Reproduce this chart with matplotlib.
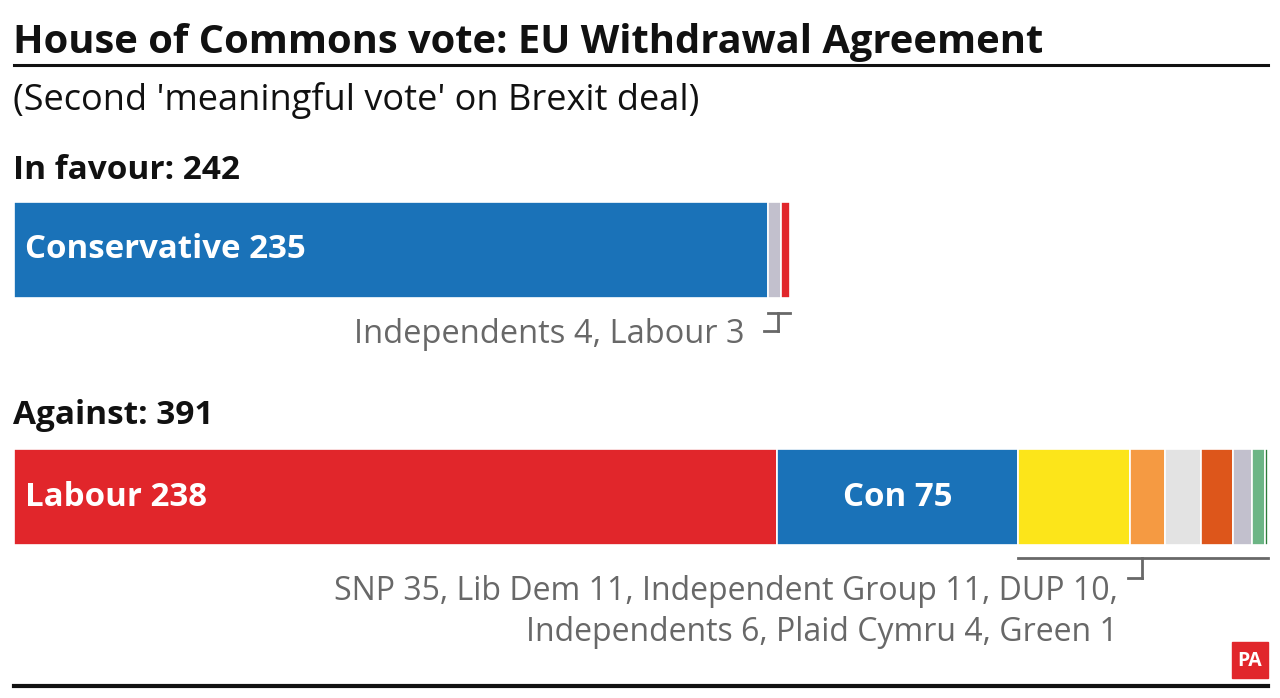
import matplotlib
matplotlib.use("Agg")
import matplotlib.pyplot as plt
from matplotlib.patches import Rectangle
import numpy as np

# ---- data ----
favour_parties = ["Conservative", "Independents", "Labour"]
favour_values = [235, 4, 3]
favour_colors = ["#1a72b8", "#c2c0cd", "#e1262b"]

against_parties = ["Labour", "Conservative", "SNP", "Lib Dem", "Independent Group",
                   "DUP", "Independents", "Plaid Cymru", "Green"]
against_values = [238, 75, 35, 11, 11, 10, 6, 4, 1]
against_colors = ["#e1262b", "#1a72b8", "#fce51a", "#f59a42", "#e3e3e3",
                  "#dd561b", "#c2c0cd", "#6cb585", "#2e7d3a"]

title = "House of Commons vote: EU Withdrawal Agreement"
subtitle = "(Second 'meaningful vote' on Brexit deal)"
favour_heading = "In favour: 242"
against_heading = "Against: 391"
favour_note = "Independents 4, Labour 3"
against_note_lines = ["SNP 35, Lib Dem 11, Independent Group 11, DUP 10,",
                      "Independents 6, Plaid Cymru 4, Green 1"]

W, H = 1280, 698
FONT = "Open Sans"
plt.rcParams["font.family"] = [FONT, "DejaVu Sans"]

fig = plt.figure(figsize=(W / 100, H / 100), dpi=100)
fig.patch.set_facecolor("white")

X0, X1 = 14, 1268
total = sum(against_values)
scale = (X1 - X0) / total
ax = fig.add_axes([0, 0, 1, 1])
ax.set_xlim(-X0 / scale, (W - X0) / scale)
ax.set_ylim(H, 0)
ax.axis("off")


def seat(px):
    # pixel x to seats
    return (px - X0) / scale


def fx(px):
    return px / W


def fy(py):
    return 1 - py / H


dark = "#111111"
gray = "#686868"

# title and rules
fig.text(fx(13), fy(53), title, fontsize=28.7, fontweight="bold", color=dark,
         ha="left", va="baseline")
fig.add_artist(plt.Line2D([fx(14), fx(1268)], [fy(65), fy(65)], color=dark, lw=2.2))
fig.text(fx(13), fy(110), subtitle, fontsize=26, color=dark, ha="left", va="baseline")
fig.text(fx(13), fy(179), favour_heading, fontsize=24, fontweight="bold", color=dark,
         ha="left", va="baseline")
fig.text(fx(13), fy(424), against_heading, fontsize=24, fontweight="bold", color=dark,
         ha="left", va="baseline")

# bars
bh = 96
fav_y = 250
ag_y = 497
left = np.concatenate([[0], np.cumsum(favour_values)[:-1]])
ax.barh([fav_y] * len(favour_values), favour_values, left=left, height=bh,
        color=favour_colors, edgecolor="white", linewidth=1.2)
left2 = np.concatenate([[0], np.cumsum(against_values)[:-1]])
ax.barh([ag_y] * len(against_values), against_values, left=left2, height=bh,
        color=against_colors, edgecolor="white", linewidth=1.2)

# bar labels
ax.text(seat(25), fav_y, f"{favour_parties[0]} {favour_values[0]}",
        color="white", fontsize=23.8, fontweight="bold", ha="left", va="center")
ax.text(seat(25), ag_y, f"{against_parties[0]} {against_values[0]}",
        color="white", fontsize=23.8, fontweight="bold", ha="left", va="center")
ax.text(left2[1] + against_values[1] / 2, ag_y, f"Con {against_values[1]}",
        color="white", fontsize=23.8, fontweight="bold", ha="center", va="center")

# favour bracket
b_left = left[1]
b_right = sum(favour_values)
ax.plot([b_left, b_right], [313, 313], color=gray, lw=2)
ax.plot([seat(778)] * 2, [313, 331], color=gray, lw=2)
ax.plot([seat(778), seat(764)], [331, 331], color=gray, lw=2)
fig.text(fx(745), fy(343), favour_note, fontsize=23.5, color=gray, ha="right", va="baseline")

# against bracket
a_left = left2[2]
a_right = total
ax.plot([a_left, a_right], [558, 558], color=gray, lw=2)
ax.plot([seat(1142)] * 2, [558, 578], color=gray, lw=2)
ax.plot([seat(1142), seat(1128)], [578, 578], color=gray, lw=2)
fig.text(fx(1118), fy(600), against_note_lines[0], fontsize=23, color=gray, ha="right",
         va="baseline")
fig.text(fx(1118), fy(641), against_note_lines[1], fontsize=23, color=gray, ha="right",
         va="baseline")

# bottom rule and logo
fig.add_artist(plt.Line2D([fx(14), fx(1268)], [fy(686), fy(686)], color=dark, lw=3))
fig.add_artist(Rectangle((fx(1232), fy(678)), fx(36), 36 / H, color="#e1262b",
                         transform=fig.transFigure))
fig.text(fx(1250), fy(661), "PA", color="white", fontsize=14, fontweight="bold",
         ha="center", va="center")

fig.savefig("out.png", dpi=100)
